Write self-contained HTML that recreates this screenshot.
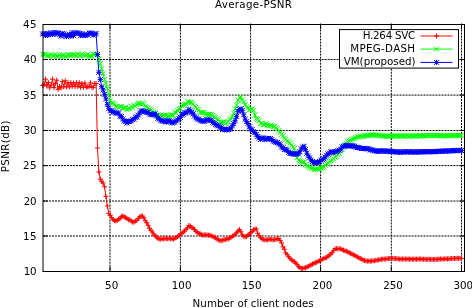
<!DOCTYPE html>
<html><head><meta charset="utf-8"><title>Average-PSNR</title>
<style>html,body{margin:0;padding:0;background:#fff}svg{display:block}text{font-family:"DejaVu Sans","Liberation Sans",sans-serif;font-size:10.3px;fill:#000}</style></head>
<body>
<svg width="472" height="308" viewBox="0 0 472 308">
<rect width="472" height="308" fill="#fff"/>
<path d="M43 59.5H464.5M43 95.1H464.5M43 130.5H464.5M43 165.6H464.5M43 201H464.5M43 236H464.5" fill="none" stroke="#000" stroke-width="1" stroke-dasharray="2 0.996"/>
<path d="M110 23.5V271.5M180.4 23.5V271.5M250.6 23.5V271.5M320.6 23.5V271.5M391.3 23.5V271.5M461.5 23.5V271.5" fill="none" stroke="#000" stroke-width="1" stroke-dasharray="2 1.015"/>
<path d="M43 24.5h4.8M464.5 24.5h-4.8M43 59.5h4.8M464.5 59.5h-4.8M43 95.1h4.8M464.5 95.1h-4.8M43 130.5h4.8M464.5 130.5h-4.8M43 165.6h4.8M464.5 165.6h-4.8M43 201h4.8M464.5 201h-4.8M43 236h4.8M464.5 236h-4.8M43 271.5h4.8M464.5 271.5h-4.8M110 271.5v-4.8M110 24.5v4.8M180.4 271.5v-4.8M180.4 24.5v4.8M250.6 271.5v-4.8M250.6 24.5v4.8M320.6 271.5v-4.8M320.6 24.5v4.8M391.3 271.5v-4.8M391.3 24.5v4.8M461.5 271.5v-4.8M461.5 24.5v4.8" fill="none" stroke="#000" stroke-width="1"/>
<text x="22.9" y="28.2" letter-spacing="0.55">45</text>
<text x="23.7" y="62.5" letter-spacing="-0.15">40</text>
<text x="22.9" y="98.8" letter-spacing="0.55">35</text>
<text x="23.7" y="134.1" letter-spacing="-0.15">30</text>
<text x="22.9" y="169.3" letter-spacing="0.55">25</text>
<text x="23.7" y="204.6" letter-spacing="-0.15">20</text>
<text x="22.9" y="239.9" letter-spacing="0.55">15</text>
<text x="23.7" y="275.2" letter-spacing="-0.15">10</text>
<text x="105.1" y="289.4">50</text>
<text x="171.8" y="289.4">100</text>
<text x="241.8" y="289.4">150</text>
<text x="312.6" y="289.4">200</text>
<text x="383.2" y="289.4">250</text>
<text x="453.5" y="289.4">300</text>
<text x="215" y="7.6" letter-spacing="0.3">Average-PSNR</text>
<text x="192.6" y="307" letter-spacing="0.03">Number of client nodes</text>
<text transform="translate(9.4 172.2) rotate(-90)" letter-spacing="0.35">PSNR(dB)</text>
<defs><g id="p"><path d="M-2.5 0h5"/><path d="M0 -2.5v5"/></g><g id="x"><path d="M-2.5 -2.5l5 5"/><path d="M-2.5 2.5l5 -5"/></g><g id="s"><use href="#p"/><use href="#x"/></g></defs>
<g fill="none" stroke="#f00" stroke-width="1"><path d="M42.7 85.5L44.1 84.5L45.5 79.2L46.9 86L48.3 82.5L49.7 87.8L51.1 85L52.5 79.2L53.9 87.6L55.3 83.5L56.7 80.2L58.1 89.3L59.6 86.5L61 88L62.4 81.5L63.8 86.8L65.2 80.8L66.6 86.9L68 82.8L69.4 86.9L70.8 82.6L72.2 86.4L73.6 83L75 86.7L76.4 82.6L77.8 86.5L79.2 82.7L80.6 87.3L82 83.4L83.4 87.3L84.9 83L86.3 87.2L87.7 86.6L89.1 86.6L90.5 82.9L91.9 87.4L93.3 87.3L94.7 83.5L96.1 83.6L97.5 148L98.9 172L100.3 179.2L101.7 181.4L103.1 183.1L104.5 186.7L105.9 196.4L107.3 206L108.7 213.4L110.2 215.4L111.6 217.5L113 219.6L114.4 220.6L115.8 221L117.2 220.3L118.6 219.2L120 218.6L121.4 216.8L122.8 215.8L124.2 217L125.6 217.5L127 218.6L128.4 219.8L129.8 219.7L131.2 221L132.6 222.1L134 222L135.4 221L136.9 220.5L138.3 218.5L139.7 216.9L141.1 216L142.5 216.2L143.9 217.9L145.3 220.8L146.7 222.7L148.1 225.3L149.5 228.3L150.9 230.3L152.3 232L153.7 234.1L155.1 235.7L156.5 237L157.9 238.5L159.3 238.9L160.7 239.1L162.2 238.9L163.6 238.9L165 238.4L166.4 238.5L167.8 238.9L169.2 238.2L170.6 238.7L172 238.6L173.4 239.3L174.8 238.2L176.2 237.5L177.6 236.4L179 235.9L180.4 234L181.8 233.4L183.2 232.1L184.6 231L186 229.2L187.5 228L188.9 225.5L190.3 226.1L191.7 227.6L193.1 228L194.5 229.4L195.9 231.4L197.3 232.3L198.7 233.4L200.1 233.7L201.5 234.7L202.9 235.1L204.3 234.9L205.7 234.9L207.1 235L208.5 235.2L209.9 235.3L211.3 235.8L212.8 236.4L214.2 237.2L215.6 237.9L217 239L218.4 239.8L219.8 240.6L221.2 240.6L222.6 240.1L224 239.8L225.4 239.4L226.8 239.1L228.2 239L229.6 238L231 237.4L232.4 236.2L233.8 235.7L235.2 234L236.6 233L238.1 230.9L239.5 229.7L240.9 231.8L242.3 235L243.7 236.3L245.1 236.8L246.5 236.5L247.9 235.3L249.3 234.2L250.7 232.6L252.1 231.6L253.5 229.9L254.9 229.1L256.3 229L257.7 233.2L259.1 235.6L260.5 237.6L261.9 238.8L263.3 239.6L264.8 239.8L266.2 239.7L267.6 240L269 238.9L270.4 239.4L271.8 239.5L273.2 239.8L274.6 239.4L276 239.4L277.4 238.8L278.8 238.6L280.2 240.4L281.6 242.9L283 246.9L284.4 249.3L285.8 253L287.2 254.7L288.6 256.7L290.1 258.4L291.5 259.9L292.9 261L294.3 261.5L295.7 263.1L297.1 264.3L298.5 266.7L299.9 267.5L301.3 268.5L302.7 268.4L304.1 267.9L305.5 267.9L306.9 266.9L308.3 266.5L309.7 265.6L311.1 264.9L312.5 264.1L313.9 263.2L315.4 262.7L316.8 262.2L318.2 261.4L319.6 260.7L321 259.7L322.4 259.3L323.8 258.4L325.2 257.8L326.6 257.7L328 256.2L329.4 255L330.8 254.1L332.2 252.7L333.6 250.4L335 248.8L336.4 248.5L337.8 249L339.2 248.5L340.7 248.9L342.1 249.6L343.5 250.2L344.9 250.9L346.3 251.2L347.7 251.9L349.1 252.6L350.5 253.3L351.9 254L353.3 254.9L354.7 255.4L356.1 256.2L357.5 256.9L358.9 258L360.3 258.4L361.7 259.1L363.1 260L364.5 260.5L366 260.8L367.4 261.1L368.8 261L370.2 261.2L371.6 260.9L373 260.7L374.4 260.8L375.8 260.4L377.2 260.1L378.6 259.8L380 259.7L381.4 259.3L382.8 259.1L384.2 259.1L385.6 259L387 258.7L388.4 258.5L389.8 258.5L391.2 258.2L392.7 258.3L394.1 258.5L395.5 258.6L396.9 258.6L398.3 258.9L399.7 259.1L401.1 259.1L402.5 259L403.9 259.1L405.3 259L406.7 259.2L408.1 259L409.5 259.2L410.9 259.2L412.3 259.2L413.7 259.2L415.1 259.1L416.5 259.1L418 259.2L419.4 259L420.8 259L422.2 259.2L423.6 259.2L425 259.2L426.4 259.4L427.8 259.3L429.2 259.2L430.6 259.4L432 259.4L433.4 259.4L434.8 259.3L436.2 259.4L437.6 259.3L439 259.1L440.4 259L441.8 259.1L443.3 259.1L444.7 258.9L446.1 258.8L447.5 258.9L448.9 258.8L450.3 258.7L451.7 258.5L453.1 258.4L454.5 258.5L455.9 258.4L457.3 258.3L458.7 258.3L460.1 258.3L461.5 258.4"/>
<use href="#p" x="42.7" y="85.5"/><use href="#p" x="44.1" y="84.5"/><use href="#p" x="45.5" y="79.2"/><use href="#p" x="46.9" y="86"/><use href="#p" x="48.3" y="82.5"/><use href="#p" x="49.7" y="87.8"/><use href="#p" x="51.1" y="85"/><use href="#p" x="52.5" y="79.2"/><use href="#p" x="53.9" y="87.6"/><use href="#p" x="55.3" y="83.5"/><use href="#p" x="56.7" y="80.2"/><use href="#p" x="58.1" y="89.3"/><use href="#p" x="59.6" y="86.5"/><use href="#p" x="61" y="88"/><use href="#p" x="62.4" y="81.5"/><use href="#p" x="63.8" y="86.8"/><use href="#p" x="65.2" y="80.8"/><use href="#p" x="66.6" y="86.9"/><use href="#p" x="68" y="82.8"/><use href="#p" x="69.4" y="86.9"/><use href="#p" x="70.8" y="82.6"/><use href="#p" x="72.2" y="86.4"/><use href="#p" x="73.6" y="83"/><use href="#p" x="75" y="86.7"/><use href="#p" x="76.4" y="82.6"/><use href="#p" x="77.8" y="86.5"/><use href="#p" x="79.2" y="82.7"/><use href="#p" x="80.6" y="87.3"/><use href="#p" x="82" y="83.4"/><use href="#p" x="83.4" y="87.3"/><use href="#p" x="84.9" y="83"/><use href="#p" x="86.3" y="87.2"/><use href="#p" x="87.7" y="86.6"/><use href="#p" x="89.1" y="86.6"/><use href="#p" x="90.5" y="82.9"/><use href="#p" x="91.9" y="87.4"/><use href="#p" x="93.3" y="87.3"/><use href="#p" x="94.7" y="83.5"/><use href="#p" x="96.1" y="83.6"/><use href="#p" x="97.5" y="148"/><use href="#p" x="98.9" y="172"/><use href="#p" x="100.3" y="179.2"/><use href="#p" x="101.7" y="181.4"/><use href="#p" x="103.1" y="183.1"/><use href="#p" x="104.5" y="186.7"/><use href="#p" x="105.9" y="196.4"/><use href="#p" x="107.3" y="206"/><use href="#p" x="108.7" y="213.4"/><use href="#p" x="110.2" y="215.4"/><use href="#p" x="111.6" y="217.5"/><use href="#p" x="113" y="219.6"/><use href="#p" x="114.4" y="220.6"/><use href="#p" x="115.8" y="221"/><use href="#p" x="117.2" y="220.3"/><use href="#p" x="118.6" y="219.2"/><use href="#p" x="120" y="218.6"/><use href="#p" x="121.4" y="216.8"/><use href="#p" x="122.8" y="215.8"/><use href="#p" x="124.2" y="217"/><use href="#p" x="125.6" y="217.5"/><use href="#p" x="127" y="218.6"/><use href="#p" x="128.4" y="219.8"/><use href="#p" x="129.8" y="219.7"/><use href="#p" x="131.2" y="221"/><use href="#p" x="132.6" y="222.1"/><use href="#p" x="134" y="222"/><use href="#p" x="135.4" y="221"/><use href="#p" x="136.9" y="220.5"/><use href="#p" x="138.3" y="218.5"/><use href="#p" x="139.7" y="216.9"/><use href="#p" x="141.1" y="216"/><use href="#p" x="142.5" y="216.2"/><use href="#p" x="143.9" y="217.9"/><use href="#p" x="145.3" y="220.8"/><use href="#p" x="146.7" y="222.7"/><use href="#p" x="148.1" y="225.3"/><use href="#p" x="149.5" y="228.3"/><use href="#p" x="150.9" y="230.3"/><use href="#p" x="152.3" y="232"/><use href="#p" x="153.7" y="234.1"/><use href="#p" x="155.1" y="235.7"/><use href="#p" x="156.5" y="237"/><use href="#p" x="157.9" y="238.5"/><use href="#p" x="159.3" y="238.9"/><use href="#p" x="160.7" y="239.1"/><use href="#p" x="162.2" y="238.9"/><use href="#p" x="163.6" y="238.9"/><use href="#p" x="165" y="238.4"/><use href="#p" x="166.4" y="238.5"/><use href="#p" x="167.8" y="238.9"/><use href="#p" x="169.2" y="238.2"/><use href="#p" x="170.6" y="238.7"/><use href="#p" x="172" y="238.6"/><use href="#p" x="173.4" y="239.3"/><use href="#p" x="174.8" y="238.2"/><use href="#p" x="176.2" y="237.5"/><use href="#p" x="177.6" y="236.4"/><use href="#p" x="179" y="235.9"/><use href="#p" x="180.4" y="234"/><use href="#p" x="181.8" y="233.4"/><use href="#p" x="183.2" y="232.1"/><use href="#p" x="184.6" y="231"/><use href="#p" x="186" y="229.2"/><use href="#p" x="187.5" y="228"/><use href="#p" x="188.9" y="225.5"/><use href="#p" x="190.3" y="226.1"/><use href="#p" x="191.7" y="227.6"/><use href="#p" x="193.1" y="228"/><use href="#p" x="194.5" y="229.4"/><use href="#p" x="195.9" y="231.4"/><use href="#p" x="197.3" y="232.3"/><use href="#p" x="198.7" y="233.4"/><use href="#p" x="200.1" y="233.7"/><use href="#p" x="201.5" y="234.7"/><use href="#p" x="202.9" y="235.1"/><use href="#p" x="204.3" y="234.9"/><use href="#p" x="205.7" y="234.9"/><use href="#p" x="207.1" y="235"/><use href="#p" x="208.5" y="235.2"/><use href="#p" x="209.9" y="235.3"/><use href="#p" x="211.3" y="235.8"/><use href="#p" x="212.8" y="236.4"/><use href="#p" x="214.2" y="237.2"/><use href="#p" x="215.6" y="237.9"/><use href="#p" x="217" y="239"/><use href="#p" x="218.4" y="239.8"/><use href="#p" x="219.8" y="240.6"/><use href="#p" x="221.2" y="240.6"/><use href="#p" x="222.6" y="240.1"/><use href="#p" x="224" y="239.8"/><use href="#p" x="225.4" y="239.4"/><use href="#p" x="226.8" y="239.1"/><use href="#p" x="228.2" y="239"/><use href="#p" x="229.6" y="238"/><use href="#p" x="231" y="237.4"/><use href="#p" x="232.4" y="236.2"/><use href="#p" x="233.8" y="235.7"/><use href="#p" x="235.2" y="234"/><use href="#p" x="236.6" y="233"/><use href="#p" x="238.1" y="230.9"/><use href="#p" x="239.5" y="229.7"/><use href="#p" x="240.9" y="231.8"/><use href="#p" x="242.3" y="235"/><use href="#p" x="243.7" y="236.3"/><use href="#p" x="245.1" y="236.8"/><use href="#p" x="246.5" y="236.5"/><use href="#p" x="247.9" y="235.3"/><use href="#p" x="249.3" y="234.2"/><use href="#p" x="250.7" y="232.6"/><use href="#p" x="252.1" y="231.6"/><use href="#p" x="253.5" y="229.9"/><use href="#p" x="254.9" y="229.1"/><use href="#p" x="256.3" y="229"/><use href="#p" x="257.7" y="233.2"/><use href="#p" x="259.1" y="235.6"/><use href="#p" x="260.5" y="237.6"/><use href="#p" x="261.9" y="238.8"/><use href="#p" x="263.3" y="239.6"/><use href="#p" x="264.8" y="239.8"/><use href="#p" x="266.2" y="239.7"/><use href="#p" x="267.6" y="240"/><use href="#p" x="269" y="238.9"/><use href="#p" x="270.4" y="239.4"/><use href="#p" x="271.8" y="239.5"/><use href="#p" x="273.2" y="239.8"/><use href="#p" x="274.6" y="239.4"/><use href="#p" x="276" y="239.4"/><use href="#p" x="277.4" y="238.8"/><use href="#p" x="278.8" y="238.6"/><use href="#p" x="280.2" y="240.4"/><use href="#p" x="281.6" y="242.9"/><use href="#p" x="283" y="246.9"/><use href="#p" x="284.4" y="249.3"/><use href="#p" x="285.8" y="253"/><use href="#p" x="287.2" y="254.7"/><use href="#p" x="288.6" y="256.7"/><use href="#p" x="290.1" y="258.4"/><use href="#p" x="291.5" y="259.9"/><use href="#p" x="292.9" y="261"/><use href="#p" x="294.3" y="261.5"/><use href="#p" x="295.7" y="263.1"/><use href="#p" x="297.1" y="264.3"/><use href="#p" x="298.5" y="266.7"/><use href="#p" x="299.9" y="267.5"/><use href="#p" x="301.3" y="268.5"/><use href="#p" x="302.7" y="268.4"/><use href="#p" x="304.1" y="267.9"/><use href="#p" x="305.5" y="267.9"/><use href="#p" x="306.9" y="266.9"/><use href="#p" x="308.3" y="266.5"/><use href="#p" x="309.7" y="265.6"/><use href="#p" x="311.1" y="264.9"/><use href="#p" x="312.5" y="264.1"/><use href="#p" x="313.9" y="263.2"/><use href="#p" x="315.4" y="262.7"/><use href="#p" x="316.8" y="262.2"/><use href="#p" x="318.2" y="261.4"/><use href="#p" x="319.6" y="260.7"/><use href="#p" x="321" y="259.7"/><use href="#p" x="322.4" y="259.3"/><use href="#p" x="323.8" y="258.4"/><use href="#p" x="325.2" y="257.8"/><use href="#p" x="326.6" y="257.7"/><use href="#p" x="328" y="256.2"/><use href="#p" x="329.4" y="255"/><use href="#p" x="330.8" y="254.1"/><use href="#p" x="332.2" y="252.7"/><use href="#p" x="333.6" y="250.4"/><use href="#p" x="335" y="248.8"/><use href="#p" x="336.4" y="248.5"/><use href="#p" x="337.8" y="249"/><use href="#p" x="339.2" y="248.5"/><use href="#p" x="340.7" y="248.9"/><use href="#p" x="342.1" y="249.6"/><use href="#p" x="343.5" y="250.2"/><use href="#p" x="344.9" y="250.9"/><use href="#p" x="346.3" y="251.2"/><use href="#p" x="347.7" y="251.9"/><use href="#p" x="349.1" y="252.6"/><use href="#p" x="350.5" y="253.3"/><use href="#p" x="351.9" y="254"/><use href="#p" x="353.3" y="254.9"/><use href="#p" x="354.7" y="255.4"/><use href="#p" x="356.1" y="256.2"/><use href="#p" x="357.5" y="256.9"/><use href="#p" x="358.9" y="258"/><use href="#p" x="360.3" y="258.4"/><use href="#p" x="361.7" y="259.1"/><use href="#p" x="363.1" y="260"/><use href="#p" x="364.5" y="260.5"/><use href="#p" x="366" y="260.8"/><use href="#p" x="367.4" y="261.1"/><use href="#p" x="368.8" y="261"/><use href="#p" x="370.2" y="261.2"/><use href="#p" x="371.6" y="260.9"/><use href="#p" x="373" y="260.7"/><use href="#p" x="374.4" y="260.8"/><use href="#p" x="375.8" y="260.4"/><use href="#p" x="377.2" y="260.1"/><use href="#p" x="378.6" y="259.8"/><use href="#p" x="380" y="259.7"/><use href="#p" x="381.4" y="259.3"/><use href="#p" x="382.8" y="259.1"/><use href="#p" x="384.2" y="259.1"/><use href="#p" x="385.6" y="259"/><use href="#p" x="387" y="258.7"/><use href="#p" x="388.4" y="258.5"/><use href="#p" x="389.8" y="258.5"/><use href="#p" x="391.2" y="258.2"/><use href="#p" x="392.7" y="258.3"/><use href="#p" x="394.1" y="258.5"/><use href="#p" x="395.5" y="258.6"/><use href="#p" x="396.9" y="258.6"/><use href="#p" x="398.3" y="258.9"/><use href="#p" x="399.7" y="259.1"/><use href="#p" x="401.1" y="259.1"/><use href="#p" x="402.5" y="259"/><use href="#p" x="403.9" y="259.1"/><use href="#p" x="405.3" y="259"/><use href="#p" x="406.7" y="259.2"/><use href="#p" x="408.1" y="259"/><use href="#p" x="409.5" y="259.2"/><use href="#p" x="410.9" y="259.2"/><use href="#p" x="412.3" y="259.2"/><use href="#p" x="413.7" y="259.2"/><use href="#p" x="415.1" y="259.1"/><use href="#p" x="416.5" y="259.1"/><use href="#p" x="418" y="259.2"/><use href="#p" x="419.4" y="259"/><use href="#p" x="420.8" y="259"/><use href="#p" x="422.2" y="259.2"/><use href="#p" x="423.6" y="259.2"/><use href="#p" x="425" y="259.2"/><use href="#p" x="426.4" y="259.4"/><use href="#p" x="427.8" y="259.3"/><use href="#p" x="429.2" y="259.2"/><use href="#p" x="430.6" y="259.4"/><use href="#p" x="432" y="259.4"/><use href="#p" x="433.4" y="259.4"/><use href="#p" x="434.8" y="259.3"/><use href="#p" x="436.2" y="259.4"/><use href="#p" x="437.6" y="259.3"/><use href="#p" x="439" y="259.1"/><use href="#p" x="440.4" y="259"/><use href="#p" x="441.8" y="259.1"/><use href="#p" x="443.3" y="259.1"/><use href="#p" x="444.7" y="258.9"/><use href="#p" x="446.1" y="258.8"/><use href="#p" x="447.5" y="258.9"/><use href="#p" x="448.9" y="258.8"/><use href="#p" x="450.3" y="258.7"/><use href="#p" x="451.7" y="258.5"/><use href="#p" x="453.1" y="258.4"/><use href="#p" x="454.5" y="258.5"/><use href="#p" x="455.9" y="258.4"/><use href="#p" x="457.3" y="258.3"/><use href="#p" x="458.7" y="258.3"/><use href="#p" x="460.1" y="258.3"/><use href="#p" x="461.5" y="258.4"/></g>
<g fill="none" stroke="#0f0" stroke-width="1"><path d="M42.7 54.1L44.1 54.6L45.5 54.2L46.9 55.7L48.3 56L49.7 56.2L51.1 54.4L52.5 55.8L53.9 55.7L55.3 54.4L56.7 56.3L58.1 56.5L59.6 54.6L61 56.5L62.4 55.1L63.8 55.3L65.2 56.6L66.6 56.2L68 54.5L69.4 55.2L70.8 55.4L72.2 55L73.6 54.6L75 54.9L76.4 55.9L77.8 54.1L79.2 55.5L80.6 55.2L82 54.1L83.4 54.9L84.9 55.6L86.3 55.3L87.7 54.2L89.1 56.5L90.5 56L91.9 56.4L93.3 54.2L94.7 54.6L96.1 54L97.5 54.7L98.9 59.2L100.3 63.7L101.7 68.6L103.1 73.7L104.5 79.5L105.9 83.5L107.3 88.4L108.7 94.2L110.2 100.5L111.6 103.1L113 103.1L114.4 104.2L115.8 106.7L117.2 106.4L118.6 107.3L120 106.4L121.4 106.6L122.8 108.3L124.2 107.9L125.6 107.3L127 109.6L128.4 108.7L129.8 108.6L131.2 106.4L132.6 107.8L134 105.3L135.4 106.3L136.9 104.5L138.3 103.4L139.7 103.4L141.1 104.3L142.5 102.7L143.9 103.8L145.3 106.5L146.7 107.5L148.1 108.1L149.5 109.2L150.9 109.9L152.3 111.2L153.7 112.3L155.1 113.2L156.5 115.2L157.9 115L159.3 115.8L160.7 115.2L162.2 115.9L163.6 115.3L165 115.7L166.4 115L167.8 116.5L169.2 115.9L170.6 114.9L172 115.1L173.4 115.2L174.8 112.2L176.2 113L177.6 110.6L179 109.2L180.4 108.5L181.8 106L183.2 105.2L184.6 104.5L186 104L187.5 101.4L188.9 102.4L190.3 102.5L191.7 102.7L193.1 104.1L194.5 106L195.9 107.3L197.3 108.9L198.7 109.9L200.1 112.5L201.5 112.3L202.9 112.4L204.3 112.4L205.7 114.1L207.1 114.4L208.5 114.4L209.9 114.2L211.3 114.7L212.8 115.5L214.2 116.9L215.6 117.5L217 119.2L218.4 119.7L219.8 121.8L221.2 122.7L222.6 122.4L224 122.2L225.4 123.7L226.8 122.5L228.2 121.6L229.6 119.9L231 118.7L232.4 116.1L233.8 113.3L235.2 108.8L236.6 105L238.1 100.1L239.5 97.8L240.9 97.3L242.3 100L243.7 102L245.1 104.7L246.5 106.9L247.9 108.2L249.3 110L250.7 109.2L252.1 108.9L253.5 110.3L254.9 115L256.3 118.5L257.7 119.3L259.1 120.8L260.5 123.7L261.9 123.2L263.3 124.4L264.8 124.5L266.2 123.6L267.6 125.3L269 125.7L270.4 125.4L271.8 125.9L273.2 126.6L274.6 126.3L276 127.9L277.4 128.8L278.8 130.7L280.2 132.5L281.6 134.4L283 135.9L284.4 138.2L285.8 139.5L287.2 141.1L288.6 141.9L290.1 143.2L291.5 145.1L292.9 147.2L294.3 148.5L295.7 154L297.1 157.7L298.5 160.1L299.9 161.2L301.3 161.9L302.7 162.3L304.1 162.1L305.5 164.6L306.9 165.7L308.3 166.4L309.7 167.6L311.1 168.5L312.5 168L313.9 169.6L315.4 169.3L316.8 168.9L318.2 168.9L319.6 169.3L321 168L322.4 167.7L323.8 166.9L325.2 165.1L326.6 163.8L328 162.8L329.4 161.9L330.8 160.8L332.2 159.7L333.6 158.7L335 157.1L336.4 156.2L337.8 154.5L339.2 153.3L340.7 150.9L342.1 149.4L343.5 146.8L344.9 145L346.3 143.3L347.7 141.8L349.1 141.1L350.5 140.4L351.9 139.3L353.3 138.8L354.7 138.2L356.1 137.6L357.5 136.8L358.9 136.9L360.3 136.1L361.7 136.5L363.1 136.3L364.5 135.4L366 135.5L367.4 135.7L368.8 135.7L370.2 135.2L371.6 135L373 134.9L374.4 135.3L375.8 135L377.2 135.4L378.6 135.2L380 135.6L381.4 136.1L382.8 135.6L384.2 136.2L385.6 136L387 136.3L388.4 136.2L389.8 135.9L391.2 136.4L392.7 136.2L394.1 135.9L395.5 135.8L396.9 136.1L398.3 136.1L399.7 136L401.1 135.8L402.5 135.9L403.9 135.9L405.3 136.2L406.7 135.6L408.1 136.1L409.5 136.2L410.9 135.7L412.3 136.2L413.7 136L415.1 136.1L416.5 135.7L418 135.7L419.4 135.7L420.8 136.1L422.2 135.8L423.6 135.7L425 135.7L426.4 135.6L427.8 135.4L429.2 135.4L430.6 135.9L432 135.5L433.4 135.9L434.8 135.5L436.2 135.5L437.6 135.7L439 135.4L440.4 135.6L441.8 135.9L443.3 135.9L444.7 135.8L446.1 135.7L447.5 135.8L448.9 135.8L450.3 135.6L451.7 135.7L453.1 135.3L454.5 135.7L455.9 135.5L457.3 135.7L458.7 135.6L460.1 135.4L461.5 135.2"/>
<use href="#x" x="42.7" y="54.1"/><use href="#x" x="44.1" y="54.6"/><use href="#x" x="45.5" y="54.2"/><use href="#x" x="46.9" y="55.7"/><use href="#x" x="48.3" y="56"/><use href="#x" x="49.7" y="56.2"/><use href="#x" x="51.1" y="54.4"/><use href="#x" x="52.5" y="55.8"/><use href="#x" x="53.9" y="55.7"/><use href="#x" x="55.3" y="54.4"/><use href="#x" x="56.7" y="56.3"/><use href="#x" x="58.1" y="56.5"/><use href="#x" x="59.6" y="54.6"/><use href="#x" x="61" y="56.5"/><use href="#x" x="62.4" y="55.1"/><use href="#x" x="63.8" y="55.3"/><use href="#x" x="65.2" y="56.6"/><use href="#x" x="66.6" y="56.2"/><use href="#x" x="68" y="54.5"/><use href="#x" x="69.4" y="55.2"/><use href="#x" x="70.8" y="55.4"/><use href="#x" x="72.2" y="55"/><use href="#x" x="73.6" y="54.6"/><use href="#x" x="75" y="54.9"/><use href="#x" x="76.4" y="55.9"/><use href="#x" x="77.8" y="54.1"/><use href="#x" x="79.2" y="55.5"/><use href="#x" x="80.6" y="55.2"/><use href="#x" x="82" y="54.1"/><use href="#x" x="83.4" y="54.9"/><use href="#x" x="84.9" y="55.6"/><use href="#x" x="86.3" y="55.3"/><use href="#x" x="87.7" y="54.2"/><use href="#x" x="89.1" y="56.5"/><use href="#x" x="90.5" y="56"/><use href="#x" x="91.9" y="56.4"/><use href="#x" x="93.3" y="54.2"/><use href="#x" x="94.7" y="54.6"/><use href="#x" x="96.1" y="54"/><use href="#x" x="97.5" y="54.7"/><use href="#x" x="98.9" y="59.2"/><use href="#x" x="100.3" y="63.7"/><use href="#x" x="101.7" y="68.6"/><use href="#x" x="103.1" y="73.7"/><use href="#x" x="104.5" y="79.5"/><use href="#x" x="105.9" y="83.5"/><use href="#x" x="107.3" y="88.4"/><use href="#x" x="108.7" y="94.2"/><use href="#x" x="110.2" y="100.5"/><use href="#x" x="111.6" y="103.1"/><use href="#x" x="113" y="103.1"/><use href="#x" x="114.4" y="104.2"/><use href="#x" x="115.8" y="106.7"/><use href="#x" x="117.2" y="106.4"/><use href="#x" x="118.6" y="107.3"/><use href="#x" x="120" y="106.4"/><use href="#x" x="121.4" y="106.6"/><use href="#x" x="122.8" y="108.3"/><use href="#x" x="124.2" y="107.9"/><use href="#x" x="125.6" y="107.3"/><use href="#x" x="127" y="109.6"/><use href="#x" x="128.4" y="108.7"/><use href="#x" x="129.8" y="108.6"/><use href="#x" x="131.2" y="106.4"/><use href="#x" x="132.6" y="107.8"/><use href="#x" x="134" y="105.3"/><use href="#x" x="135.4" y="106.3"/><use href="#x" x="136.9" y="104.5"/><use href="#x" x="138.3" y="103.4"/><use href="#x" x="139.7" y="103.4"/><use href="#x" x="141.1" y="104.3"/><use href="#x" x="142.5" y="102.7"/><use href="#x" x="143.9" y="103.8"/><use href="#x" x="145.3" y="106.5"/><use href="#x" x="146.7" y="107.5"/><use href="#x" x="148.1" y="108.1"/><use href="#x" x="149.5" y="109.2"/><use href="#x" x="150.9" y="109.9"/><use href="#x" x="152.3" y="111.2"/><use href="#x" x="153.7" y="112.3"/><use href="#x" x="155.1" y="113.2"/><use href="#x" x="156.5" y="115.2"/><use href="#x" x="157.9" y="115"/><use href="#x" x="159.3" y="115.8"/><use href="#x" x="160.7" y="115.2"/><use href="#x" x="162.2" y="115.9"/><use href="#x" x="163.6" y="115.3"/><use href="#x" x="165" y="115.7"/><use href="#x" x="166.4" y="115"/><use href="#x" x="167.8" y="116.5"/><use href="#x" x="169.2" y="115.9"/><use href="#x" x="170.6" y="114.9"/><use href="#x" x="172" y="115.1"/><use href="#x" x="173.4" y="115.2"/><use href="#x" x="174.8" y="112.2"/><use href="#x" x="176.2" y="113"/><use href="#x" x="177.6" y="110.6"/><use href="#x" x="179" y="109.2"/><use href="#x" x="180.4" y="108.5"/><use href="#x" x="181.8" y="106"/><use href="#x" x="183.2" y="105.2"/><use href="#x" x="184.6" y="104.5"/><use href="#x" x="186" y="104"/><use href="#x" x="187.5" y="101.4"/><use href="#x" x="188.9" y="102.4"/><use href="#x" x="190.3" y="102.5"/><use href="#x" x="191.7" y="102.7"/><use href="#x" x="193.1" y="104.1"/><use href="#x" x="194.5" y="106"/><use href="#x" x="195.9" y="107.3"/><use href="#x" x="197.3" y="108.9"/><use href="#x" x="198.7" y="109.9"/><use href="#x" x="200.1" y="112.5"/><use href="#x" x="201.5" y="112.3"/><use href="#x" x="202.9" y="112.4"/><use href="#x" x="204.3" y="112.4"/><use href="#x" x="205.7" y="114.1"/><use href="#x" x="207.1" y="114.4"/><use href="#x" x="208.5" y="114.4"/><use href="#x" x="209.9" y="114.2"/><use href="#x" x="211.3" y="114.7"/><use href="#x" x="212.8" y="115.5"/><use href="#x" x="214.2" y="116.9"/><use href="#x" x="215.6" y="117.5"/><use href="#x" x="217" y="119.2"/><use href="#x" x="218.4" y="119.7"/><use href="#x" x="219.8" y="121.8"/><use href="#x" x="221.2" y="122.7"/><use href="#x" x="222.6" y="122.4"/><use href="#x" x="224" y="122.2"/><use href="#x" x="225.4" y="123.7"/><use href="#x" x="226.8" y="122.5"/><use href="#x" x="228.2" y="121.6"/><use href="#x" x="229.6" y="119.9"/><use href="#x" x="231" y="118.7"/><use href="#x" x="232.4" y="116.1"/><use href="#x" x="233.8" y="113.3"/><use href="#x" x="235.2" y="108.8"/><use href="#x" x="236.6" y="105"/><use href="#x" x="238.1" y="100.1"/><use href="#x" x="239.5" y="97.8"/><use href="#x" x="240.9" y="97.3"/><use href="#x" x="242.3" y="100"/><use href="#x" x="243.7" y="102"/><use href="#x" x="245.1" y="104.7"/><use href="#x" x="246.5" y="106.9"/><use href="#x" x="247.9" y="108.2"/><use href="#x" x="249.3" y="110"/><use href="#x" x="250.7" y="109.2"/><use href="#x" x="252.1" y="108.9"/><use href="#x" x="253.5" y="110.3"/><use href="#x" x="254.9" y="115"/><use href="#x" x="256.3" y="118.5"/><use href="#x" x="257.7" y="119.3"/><use href="#x" x="259.1" y="120.8"/><use href="#x" x="260.5" y="123.7"/><use href="#x" x="261.9" y="123.2"/><use href="#x" x="263.3" y="124.4"/><use href="#x" x="264.8" y="124.5"/><use href="#x" x="266.2" y="123.6"/><use href="#x" x="267.6" y="125.3"/><use href="#x" x="269" y="125.7"/><use href="#x" x="270.4" y="125.4"/><use href="#x" x="271.8" y="125.9"/><use href="#x" x="273.2" y="126.6"/><use href="#x" x="274.6" y="126.3"/><use href="#x" x="276" y="127.9"/><use href="#x" x="277.4" y="128.8"/><use href="#x" x="278.8" y="130.7"/><use href="#x" x="280.2" y="132.5"/><use href="#x" x="281.6" y="134.4"/><use href="#x" x="283" y="135.9"/><use href="#x" x="284.4" y="138.2"/><use href="#x" x="285.8" y="139.5"/><use href="#x" x="287.2" y="141.1"/><use href="#x" x="288.6" y="141.9"/><use href="#x" x="290.1" y="143.2"/><use href="#x" x="291.5" y="145.1"/><use href="#x" x="292.9" y="147.2"/><use href="#x" x="294.3" y="148.5"/><use href="#x" x="295.7" y="154"/><use href="#x" x="297.1" y="157.7"/><use href="#x" x="298.5" y="160.1"/><use href="#x" x="299.9" y="161.2"/><use href="#x" x="301.3" y="161.9"/><use href="#x" x="302.7" y="162.3"/><use href="#x" x="304.1" y="162.1"/><use href="#x" x="305.5" y="164.6"/><use href="#x" x="306.9" y="165.7"/><use href="#x" x="308.3" y="166.4"/><use href="#x" x="309.7" y="167.6"/><use href="#x" x="311.1" y="168.5"/><use href="#x" x="312.5" y="168"/><use href="#x" x="313.9" y="169.6"/><use href="#x" x="315.4" y="169.3"/><use href="#x" x="316.8" y="168.9"/><use href="#x" x="318.2" y="168.9"/><use href="#x" x="319.6" y="169.3"/><use href="#x" x="321" y="168"/><use href="#x" x="322.4" y="167.7"/><use href="#x" x="323.8" y="166.9"/><use href="#x" x="325.2" y="165.1"/><use href="#x" x="326.6" y="163.8"/><use href="#x" x="328" y="162.8"/><use href="#x" x="329.4" y="161.9"/><use href="#x" x="330.8" y="160.8"/><use href="#x" x="332.2" y="159.7"/><use href="#x" x="333.6" y="158.7"/><use href="#x" x="335" y="157.1"/><use href="#x" x="336.4" y="156.2"/><use href="#x" x="337.8" y="154.5"/><use href="#x" x="339.2" y="153.3"/><use href="#x" x="340.7" y="150.9"/><use href="#x" x="342.1" y="149.4"/><use href="#x" x="343.5" y="146.8"/><use href="#x" x="344.9" y="145"/><use href="#x" x="346.3" y="143.3"/><use href="#x" x="347.7" y="141.8"/><use href="#x" x="349.1" y="141.1"/><use href="#x" x="350.5" y="140.4"/><use href="#x" x="351.9" y="139.3"/><use href="#x" x="353.3" y="138.8"/><use href="#x" x="354.7" y="138.2"/><use href="#x" x="356.1" y="137.6"/><use href="#x" x="357.5" y="136.8"/><use href="#x" x="358.9" y="136.9"/><use href="#x" x="360.3" y="136.1"/><use href="#x" x="361.7" y="136.5"/><use href="#x" x="363.1" y="136.3"/><use href="#x" x="364.5" y="135.4"/><use href="#x" x="366" y="135.5"/><use href="#x" x="367.4" y="135.7"/><use href="#x" x="368.8" y="135.7"/><use href="#x" x="370.2" y="135.2"/><use href="#x" x="371.6" y="135"/><use href="#x" x="373" y="134.9"/><use href="#x" x="374.4" y="135.3"/><use href="#x" x="375.8" y="135"/><use href="#x" x="377.2" y="135.4"/><use href="#x" x="378.6" y="135.2"/><use href="#x" x="380" y="135.6"/><use href="#x" x="381.4" y="136.1"/><use href="#x" x="382.8" y="135.6"/><use href="#x" x="384.2" y="136.2"/><use href="#x" x="385.6" y="136"/><use href="#x" x="387" y="136.3"/><use href="#x" x="388.4" y="136.2"/><use href="#x" x="389.8" y="135.9"/><use href="#x" x="391.2" y="136.4"/><use href="#x" x="392.7" y="136.2"/><use href="#x" x="394.1" y="135.9"/><use href="#x" x="395.5" y="135.8"/><use href="#x" x="396.9" y="136.1"/><use href="#x" x="398.3" y="136.1"/><use href="#x" x="399.7" y="136"/><use href="#x" x="401.1" y="135.8"/><use href="#x" x="402.5" y="135.9"/><use href="#x" x="403.9" y="135.9"/><use href="#x" x="405.3" y="136.2"/><use href="#x" x="406.7" y="135.6"/><use href="#x" x="408.1" y="136.1"/><use href="#x" x="409.5" y="136.2"/><use href="#x" x="410.9" y="135.7"/><use href="#x" x="412.3" y="136.2"/><use href="#x" x="413.7" y="136"/><use href="#x" x="415.1" y="136.1"/><use href="#x" x="416.5" y="135.7"/><use href="#x" x="418" y="135.7"/><use href="#x" x="419.4" y="135.7"/><use href="#x" x="420.8" y="136.1"/><use href="#x" x="422.2" y="135.8"/><use href="#x" x="423.6" y="135.7"/><use href="#x" x="425" y="135.7"/><use href="#x" x="426.4" y="135.6"/><use href="#x" x="427.8" y="135.4"/><use href="#x" x="429.2" y="135.4"/><use href="#x" x="430.6" y="135.9"/><use href="#x" x="432" y="135.5"/><use href="#x" x="433.4" y="135.9"/><use href="#x" x="434.8" y="135.5"/><use href="#x" x="436.2" y="135.5"/><use href="#x" x="437.6" y="135.7"/><use href="#x" x="439" y="135.4"/><use href="#x" x="440.4" y="135.6"/><use href="#x" x="441.8" y="135.9"/><use href="#x" x="443.3" y="135.9"/><use href="#x" x="444.7" y="135.8"/><use href="#x" x="446.1" y="135.7"/><use href="#x" x="447.5" y="135.8"/><use href="#x" x="448.9" y="135.8"/><use href="#x" x="450.3" y="135.6"/><use href="#x" x="451.7" y="135.7"/><use href="#x" x="453.1" y="135.3"/><use href="#x" x="454.5" y="135.7"/><use href="#x" x="455.9" y="135.5"/><use href="#x" x="457.3" y="135.7"/><use href="#x" x="458.7" y="135.6"/><use href="#x" x="460.1" y="135.4"/><use href="#x" x="461.5" y="135.2"/></g>
<g fill="none" stroke="#00f" stroke-width="1"><path d="M42.7 34.1L44.1 33.6L45.5 35.5L46.9 33.3L48.3 34.9L49.7 34.1L51.1 32.8L52.5 34.4L53.9 32.5L55.3 34L56.7 32.7L58.1 32.9L59.6 34.3L61 36L62.4 33.5L63.8 34L65.2 35.5L66.6 36.7L68 35.2L69.4 34.3L70.8 36.3L72.2 32.6L73.6 35.6L75 33.4L76.4 32.8L77.8 32.8L79.2 33.6L80.6 35.7L82 33.5L83.4 35.2L84.9 35.5L86.3 34.5L87.7 35.1L89.1 33.1L90.5 33L91.9 33.4L93.3 35.1L94.7 34L96.1 33.6L97.5 54.5L98.9 72.4L100.3 79.6L101.7 86.7L103.1 90L104.5 94.3L105.9 98.8L107.3 104.4L108.7 108.7L110.2 110.4L111.6 110.7L113 112L114.4 112.2L115.8 113.1L117.2 113.1L118.6 113L120 116.1L121.4 116.6L122.8 119L124.2 121L125.6 121.4L127 123L128.4 121.4L129.8 121.6L131.2 120.9L132.6 119.6L134 119.2L135.4 117.3L136.9 117L138.3 115L139.7 113L141.1 110.9L142.5 110.8L143.9 111.7L145.3 111.6L146.7 112.6L148.1 112.3L149.5 114L150.9 114.3L152.3 114.9L153.7 114.6L155.1 113.8L156.5 115.9L157.9 118.2L159.3 119L160.7 120.7L162.2 120.7L163.6 121.2L165 121.3L166.4 122.2L167.8 120.8L169.2 120.8L170.6 121.6L172 123.1L173.4 122.3L174.8 122.1L176.2 120.8L177.6 120L179 118.4L180.4 117.3L181.8 115.1L183.2 114.2L184.6 112.9L186 112.8L187.5 111.8L188.9 109.4L190.3 110.9L191.7 112.3L193.1 113.8L194.5 116L195.9 117.8L197.3 119L198.7 119.1L200.1 120.4L201.5 120.9L202.9 121.1L204.3 121.3L205.7 120.4L207.1 119.6L208.5 119.9L209.9 120.6L211.3 120.1L212.8 122.3L214.2 123.2L215.6 124.5L217 125.4L218.4 125.8L219.8 127L221.2 127.6L222.6 129.4L224 128.9L225.4 129.5L226.8 130.1L228.2 129.4L229.6 129.2L231 128.1L232.4 125.8L233.8 123.6L235.2 120.7L236.6 116.4L238.1 111.3L239.5 109.4L240.9 108.8L242.3 110.7L243.7 114.8L245.1 119.1L246.5 121.7L247.9 123.5L249.3 126.9L250.7 128.9L252.1 129.7L253.5 131.6L254.9 132.6L256.3 134.4L257.7 136.5L259.1 138.1L260.5 139.4L261.9 138.2L263.3 137.9L264.8 139.6L266.2 138.9L267.6 138.3L269 139.2L270.4 138.5L271.8 139.6L273.2 141L274.6 141.7L276 142.3L277.4 142.5L278.8 143.7L280.2 144.6L281.6 147L283 147.8L284.4 149.4L285.8 149.6L287.2 150.3L288.6 152.4L290.1 153.5L291.5 153.5L292.9 153.8L294.3 154.1L295.7 154.2L297.1 153.3L298.5 153.9L299.9 151.8L301.3 148.9L302.7 147.2L304.1 146.2L305.5 149.4L306.9 153.2L308.3 156.1L309.7 157.8L311.1 160.1L312.5 161.5L313.9 162.7L315.4 162.6L316.8 162.4L318.2 162.4L319.6 161.5L321 160.2L322.4 159.5L323.8 158.6L325.2 157.1L326.6 155.2L328 154L329.4 153.1L330.8 151.8L332.2 152.2L333.6 152.2L335 151.7L336.4 151.4L337.8 150.8L339.2 150.2L340.7 149.3L342.1 146.9L343.5 146.4L344.9 145.9L346.3 145.3L347.7 145.4L349.1 146.1L350.5 146L351.9 145.6L353.3 145.9L354.7 146.3L356.1 147.4L357.5 147.6L358.9 147.3L360.3 148.2L361.7 148.5L363.1 148.4L364.5 148.4L366 148.8L367.4 148.7L368.8 148.8L370.2 149.8L371.6 149.9L373 150.2L374.4 150.8L375.8 150.8L377.2 151.3L378.6 151.3L380 150.9L381.4 150.9L382.8 151L384.2 151L385.6 151.2L387 151.1L388.4 151.3L389.8 151.2L391.2 151.8L392.7 151.5L394.1 151.7L395.5 151.8L396.9 152.1L398.3 151.9L399.7 152.3L401.1 152L402.5 152L403.9 152L405.3 151.7L406.7 152L408.1 151.8L409.5 151.7L410.9 152.2L412.3 151.8L413.7 152L415.1 152.1L416.5 152L418 151.8L419.4 151.9L420.8 151.9L422.2 152L423.6 151.6L425 151.8L426.4 151.6L427.8 151.6L429.2 151.9L430.6 151.6L432 151.6L433.4 151.7L434.8 151.7L436.2 151.4L437.6 151.4L439 151.3L440.4 151.2L441.8 151.3L443.3 151.1L444.7 151L446.1 150.9L447.5 151.1L448.9 150.9L450.3 150.9L451.7 150.9L453.1 150.4L454.5 150.5L455.9 150.8L457.3 150.7L458.7 150.3L460.1 150.3L461.5 150.5"/>
<use href="#s" x="42.7" y="34.1"/><use href="#s" x="44.1" y="33.6"/><use href="#s" x="45.5" y="35.5"/><use href="#s" x="46.9" y="33.3"/><use href="#s" x="48.3" y="34.9"/><use href="#s" x="49.7" y="34.1"/><use href="#s" x="51.1" y="32.8"/><use href="#s" x="52.5" y="34.4"/><use href="#s" x="53.9" y="32.5"/><use href="#s" x="55.3" y="34"/><use href="#s" x="56.7" y="32.7"/><use href="#s" x="58.1" y="32.9"/><use href="#s" x="59.6" y="34.3"/><use href="#s" x="61" y="36"/><use href="#s" x="62.4" y="33.5"/><use href="#s" x="63.8" y="34"/><use href="#s" x="65.2" y="35.5"/><use href="#s" x="66.6" y="36.7"/><use href="#s" x="68" y="35.2"/><use href="#s" x="69.4" y="34.3"/><use href="#s" x="70.8" y="36.3"/><use href="#s" x="72.2" y="32.6"/><use href="#s" x="73.6" y="35.6"/><use href="#s" x="75" y="33.4"/><use href="#s" x="76.4" y="32.8"/><use href="#s" x="77.8" y="32.8"/><use href="#s" x="79.2" y="33.6"/><use href="#s" x="80.6" y="35.7"/><use href="#s" x="82" y="33.5"/><use href="#s" x="83.4" y="35.2"/><use href="#s" x="84.9" y="35.5"/><use href="#s" x="86.3" y="34.5"/><use href="#s" x="87.7" y="35.1"/><use href="#s" x="89.1" y="33.1"/><use href="#s" x="90.5" y="33"/><use href="#s" x="91.9" y="33.4"/><use href="#s" x="93.3" y="35.1"/><use href="#s" x="94.7" y="34"/><use href="#s" x="96.1" y="33.6"/><use href="#s" x="97.5" y="54.5"/><use href="#s" x="98.9" y="72.4"/><use href="#s" x="100.3" y="79.6"/><use href="#s" x="101.7" y="86.7"/><use href="#s" x="103.1" y="90"/><use href="#s" x="104.5" y="94.3"/><use href="#s" x="105.9" y="98.8"/><use href="#s" x="107.3" y="104.4"/><use href="#s" x="108.7" y="108.7"/><use href="#s" x="110.2" y="110.4"/><use href="#s" x="111.6" y="110.7"/><use href="#s" x="113" y="112"/><use href="#s" x="114.4" y="112.2"/><use href="#s" x="115.8" y="113.1"/><use href="#s" x="117.2" y="113.1"/><use href="#s" x="118.6" y="113"/><use href="#s" x="120" y="116.1"/><use href="#s" x="121.4" y="116.6"/><use href="#s" x="122.8" y="119"/><use href="#s" x="124.2" y="121"/><use href="#s" x="125.6" y="121.4"/><use href="#s" x="127" y="123"/><use href="#s" x="128.4" y="121.4"/><use href="#s" x="129.8" y="121.6"/><use href="#s" x="131.2" y="120.9"/><use href="#s" x="132.6" y="119.6"/><use href="#s" x="134" y="119.2"/><use href="#s" x="135.4" y="117.3"/><use href="#s" x="136.9" y="117"/><use href="#s" x="138.3" y="115"/><use href="#s" x="139.7" y="113"/><use href="#s" x="141.1" y="110.9"/><use href="#s" x="142.5" y="110.8"/><use href="#s" x="143.9" y="111.7"/><use href="#s" x="145.3" y="111.6"/><use href="#s" x="146.7" y="112.6"/><use href="#s" x="148.1" y="112.3"/><use href="#s" x="149.5" y="114"/><use href="#s" x="150.9" y="114.3"/><use href="#s" x="152.3" y="114.9"/><use href="#s" x="153.7" y="114.6"/><use href="#s" x="155.1" y="113.8"/><use href="#s" x="156.5" y="115.9"/><use href="#s" x="157.9" y="118.2"/><use href="#s" x="159.3" y="119"/><use href="#s" x="160.7" y="120.7"/><use href="#s" x="162.2" y="120.7"/><use href="#s" x="163.6" y="121.2"/><use href="#s" x="165" y="121.3"/><use href="#s" x="166.4" y="122.2"/><use href="#s" x="167.8" y="120.8"/><use href="#s" x="169.2" y="120.8"/><use href="#s" x="170.6" y="121.6"/><use href="#s" x="172" y="123.1"/><use href="#s" x="173.4" y="122.3"/><use href="#s" x="174.8" y="122.1"/><use href="#s" x="176.2" y="120.8"/><use href="#s" x="177.6" y="120"/><use href="#s" x="179" y="118.4"/><use href="#s" x="180.4" y="117.3"/><use href="#s" x="181.8" y="115.1"/><use href="#s" x="183.2" y="114.2"/><use href="#s" x="184.6" y="112.9"/><use href="#s" x="186" y="112.8"/><use href="#s" x="187.5" y="111.8"/><use href="#s" x="188.9" y="109.4"/><use href="#s" x="190.3" y="110.9"/><use href="#s" x="191.7" y="112.3"/><use href="#s" x="193.1" y="113.8"/><use href="#s" x="194.5" y="116"/><use href="#s" x="195.9" y="117.8"/><use href="#s" x="197.3" y="119"/><use href="#s" x="198.7" y="119.1"/><use href="#s" x="200.1" y="120.4"/><use href="#s" x="201.5" y="120.9"/><use href="#s" x="202.9" y="121.1"/><use href="#s" x="204.3" y="121.3"/><use href="#s" x="205.7" y="120.4"/><use href="#s" x="207.1" y="119.6"/><use href="#s" x="208.5" y="119.9"/><use href="#s" x="209.9" y="120.6"/><use href="#s" x="211.3" y="120.1"/><use href="#s" x="212.8" y="122.3"/><use href="#s" x="214.2" y="123.2"/><use href="#s" x="215.6" y="124.5"/><use href="#s" x="217" y="125.4"/><use href="#s" x="218.4" y="125.8"/><use href="#s" x="219.8" y="127"/><use href="#s" x="221.2" y="127.6"/><use href="#s" x="222.6" y="129.4"/><use href="#s" x="224" y="128.9"/><use href="#s" x="225.4" y="129.5"/><use href="#s" x="226.8" y="130.1"/><use href="#s" x="228.2" y="129.4"/><use href="#s" x="229.6" y="129.2"/><use href="#s" x="231" y="128.1"/><use href="#s" x="232.4" y="125.8"/><use href="#s" x="233.8" y="123.6"/><use href="#s" x="235.2" y="120.7"/><use href="#s" x="236.6" y="116.4"/><use href="#s" x="238.1" y="111.3"/><use href="#s" x="239.5" y="109.4"/><use href="#s" x="240.9" y="108.8"/><use href="#s" x="242.3" y="110.7"/><use href="#s" x="243.7" y="114.8"/><use href="#s" x="245.1" y="119.1"/><use href="#s" x="246.5" y="121.7"/><use href="#s" x="247.9" y="123.5"/><use href="#s" x="249.3" y="126.9"/><use href="#s" x="250.7" y="128.9"/><use href="#s" x="252.1" y="129.7"/><use href="#s" x="253.5" y="131.6"/><use href="#s" x="254.9" y="132.6"/><use href="#s" x="256.3" y="134.4"/><use href="#s" x="257.7" y="136.5"/><use href="#s" x="259.1" y="138.1"/><use href="#s" x="260.5" y="139.4"/><use href="#s" x="261.9" y="138.2"/><use href="#s" x="263.3" y="137.9"/><use href="#s" x="264.8" y="139.6"/><use href="#s" x="266.2" y="138.9"/><use href="#s" x="267.6" y="138.3"/><use href="#s" x="269" y="139.2"/><use href="#s" x="270.4" y="138.5"/><use href="#s" x="271.8" y="139.6"/><use href="#s" x="273.2" y="141"/><use href="#s" x="274.6" y="141.7"/><use href="#s" x="276" y="142.3"/><use href="#s" x="277.4" y="142.5"/><use href="#s" x="278.8" y="143.7"/><use href="#s" x="280.2" y="144.6"/><use href="#s" x="281.6" y="147"/><use href="#s" x="283" y="147.8"/><use href="#s" x="284.4" y="149.4"/><use href="#s" x="285.8" y="149.6"/><use href="#s" x="287.2" y="150.3"/><use href="#s" x="288.6" y="152.4"/><use href="#s" x="290.1" y="153.5"/><use href="#s" x="291.5" y="153.5"/><use href="#s" x="292.9" y="153.8"/><use href="#s" x="294.3" y="154.1"/><use href="#s" x="295.7" y="154.2"/><use href="#s" x="297.1" y="153.3"/><use href="#s" x="298.5" y="153.9"/><use href="#s" x="299.9" y="151.8"/><use href="#s" x="301.3" y="148.9"/><use href="#s" x="302.7" y="147.2"/><use href="#s" x="304.1" y="146.2"/><use href="#s" x="305.5" y="149.4"/><use href="#s" x="306.9" y="153.2"/><use href="#s" x="308.3" y="156.1"/><use href="#s" x="309.7" y="157.8"/><use href="#s" x="311.1" y="160.1"/><use href="#s" x="312.5" y="161.5"/><use href="#s" x="313.9" y="162.7"/><use href="#s" x="315.4" y="162.6"/><use href="#s" x="316.8" y="162.4"/><use href="#s" x="318.2" y="162.4"/><use href="#s" x="319.6" y="161.5"/><use href="#s" x="321" y="160.2"/><use href="#s" x="322.4" y="159.5"/><use href="#s" x="323.8" y="158.6"/><use href="#s" x="325.2" y="157.1"/><use href="#s" x="326.6" y="155.2"/><use href="#s" x="328" y="154"/><use href="#s" x="329.4" y="153.1"/><use href="#s" x="330.8" y="151.8"/><use href="#s" x="332.2" y="152.2"/><use href="#s" x="333.6" y="152.2"/><use href="#s" x="335" y="151.7"/><use href="#s" x="336.4" y="151.4"/><use href="#s" x="337.8" y="150.8"/><use href="#s" x="339.2" y="150.2"/><use href="#s" x="340.7" y="149.3"/><use href="#s" x="342.1" y="146.9"/><use href="#s" x="343.5" y="146.4"/><use href="#s" x="344.9" y="145.9"/><use href="#s" x="346.3" y="145.3"/><use href="#s" x="347.7" y="145.4"/><use href="#s" x="349.1" y="146.1"/><use href="#s" x="350.5" y="146"/><use href="#s" x="351.9" y="145.6"/><use href="#s" x="353.3" y="145.9"/><use href="#s" x="354.7" y="146.3"/><use href="#s" x="356.1" y="147.4"/><use href="#s" x="357.5" y="147.6"/><use href="#s" x="358.9" y="147.3"/><use href="#s" x="360.3" y="148.2"/><use href="#s" x="361.7" y="148.5"/><use href="#s" x="363.1" y="148.4"/><use href="#s" x="364.5" y="148.4"/><use href="#s" x="366" y="148.8"/><use href="#s" x="367.4" y="148.7"/><use href="#s" x="368.8" y="148.8"/><use href="#s" x="370.2" y="149.8"/><use href="#s" x="371.6" y="149.9"/><use href="#s" x="373" y="150.2"/><use href="#s" x="374.4" y="150.8"/><use href="#s" x="375.8" y="150.8"/><use href="#s" x="377.2" y="151.3"/><use href="#s" x="378.6" y="151.3"/><use href="#s" x="380" y="150.9"/><use href="#s" x="381.4" y="150.9"/><use href="#s" x="382.8" y="151"/><use href="#s" x="384.2" y="151"/><use href="#s" x="385.6" y="151.2"/><use href="#s" x="387" y="151.1"/><use href="#s" x="388.4" y="151.3"/><use href="#s" x="389.8" y="151.2"/><use href="#s" x="391.2" y="151.8"/><use href="#s" x="392.7" y="151.5"/><use href="#s" x="394.1" y="151.7"/><use href="#s" x="395.5" y="151.8"/><use href="#s" x="396.9" y="152.1"/><use href="#s" x="398.3" y="151.9"/><use href="#s" x="399.7" y="152.3"/><use href="#s" x="401.1" y="152"/><use href="#s" x="402.5" y="152"/><use href="#s" x="403.9" y="152"/><use href="#s" x="405.3" y="151.7"/><use href="#s" x="406.7" y="152"/><use href="#s" x="408.1" y="151.8"/><use href="#s" x="409.5" y="151.7"/><use href="#s" x="410.9" y="152.2"/><use href="#s" x="412.3" y="151.8"/><use href="#s" x="413.7" y="152"/><use href="#s" x="415.1" y="152.1"/><use href="#s" x="416.5" y="152"/><use href="#s" x="418" y="151.8"/><use href="#s" x="419.4" y="151.9"/><use href="#s" x="420.8" y="151.9"/><use href="#s" x="422.2" y="152"/><use href="#s" x="423.6" y="151.6"/><use href="#s" x="425" y="151.8"/><use href="#s" x="426.4" y="151.6"/><use href="#s" x="427.8" y="151.6"/><use href="#s" x="429.2" y="151.9"/><use href="#s" x="430.6" y="151.6"/><use href="#s" x="432" y="151.6"/><use href="#s" x="433.4" y="151.7"/><use href="#s" x="434.8" y="151.7"/><use href="#s" x="436.2" y="151.4"/><use href="#s" x="437.6" y="151.4"/><use href="#s" x="439" y="151.3"/><use href="#s" x="440.4" y="151.2"/><use href="#s" x="441.8" y="151.3"/><use href="#s" x="443.3" y="151.1"/><use href="#s" x="444.7" y="151"/><use href="#s" x="446.1" y="150.9"/><use href="#s" x="447.5" y="151.1"/><use href="#s" x="448.9" y="150.9"/><use href="#s" x="450.3" y="150.9"/><use href="#s" x="451.7" y="150.9"/><use href="#s" x="453.1" y="150.4"/><use href="#s" x="454.5" y="150.5"/><use href="#s" x="455.9" y="150.8"/><use href="#s" x="457.3" y="150.7"/><use href="#s" x="458.7" y="150.3"/><use href="#s" x="460.1" y="150.3"/><use href="#s" x="461.5" y="150.5"/></g>
<rect x="43" y="24.5" width="421.5" height="247" fill="none" stroke="#000" stroke-width="1"/>
<rect x="339.5" y="29.6" width="119" height="38.5" fill="#fff" stroke="#000" stroke-width="1"/>
<text x="362.7" y="39" letter-spacing="-0.24">H.264 SVC</text>
<g fill="none" stroke="#f00" stroke-width="1"><path d="M420.5 36H452.5"/><use href="#p" x="436.5" y="36"/></g>
<text x="350.3" y="52.3" letter-spacing="0.3">MPEG-DASH</text>
<g fill="none" stroke="#0f0" stroke-width="1"><path d="M420.5 49.1H452.5"/><use href="#x" x="436.5" y="49.1"/></g>
<text x="343.7" y="65.4" letter-spacing="0">VM(proposed)</text>
<g fill="none" stroke="#00f" stroke-width="1"><path d="M420.5 62.4H452.5"/><use href="#s" x="436.5" y="62.4"/></g>
</svg>
</body></html>
